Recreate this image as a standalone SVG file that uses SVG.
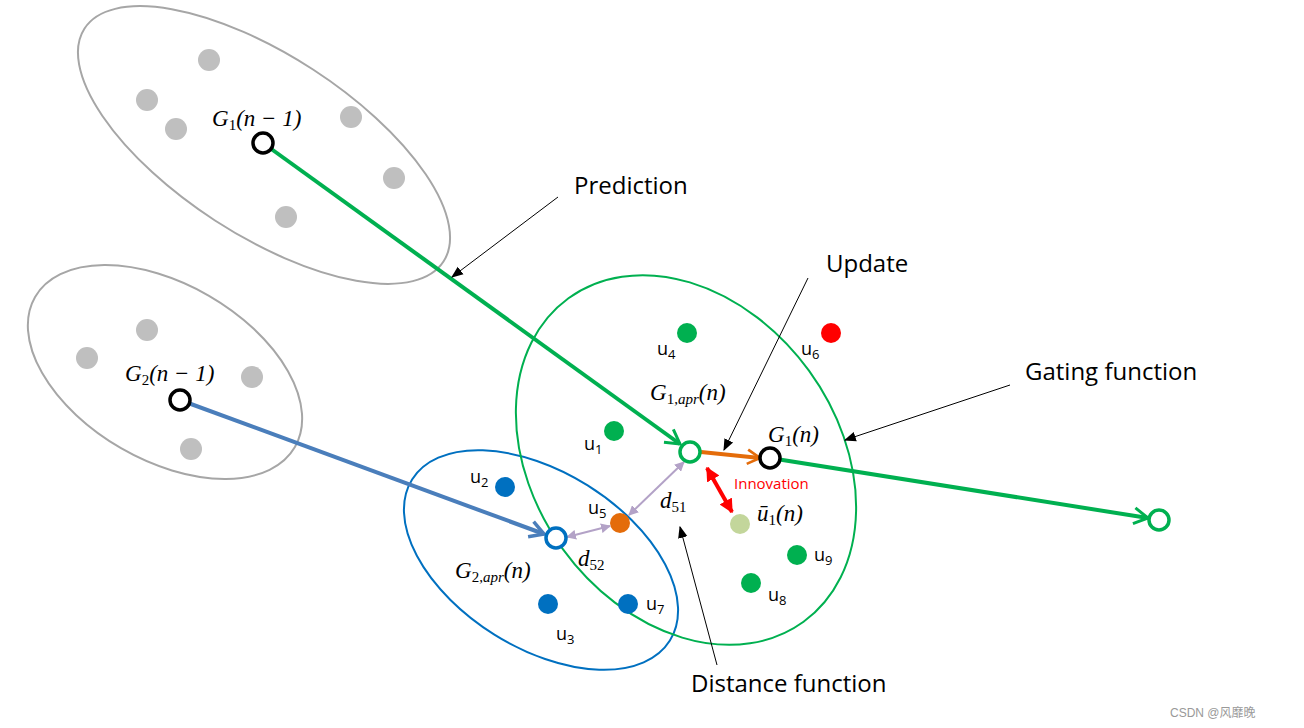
<svg xmlns="http://www.w3.org/2000/svg" width="1304" height="728" viewBox="0 0 1304 728">
<defs>
<style>
.g{fill:#bfbfbf}.lbl{font-family:"Open Sans","Liberation Sans",sans-serif;font-size:24px;fill:#000}
.u{font-family:"Open Sans","Liberation Sans",sans-serif;font-size:18px;fill:#000}
.m{font-family:"Liberation Serif",serif;font-style:italic;font-size:23px;fill:#000}
.s{font-size:15px;font-style:normal}
.si{font-size:15px}
</style>
<marker id="agb" viewBox="0 0 20 20" markerWidth="20" markerHeight="20" refX="18" refY="10" orient="auto" markerUnits="userSpaceOnUse"><path d="M4,2L18,10L4,18" fill="none" stroke="#00b050" stroke-width="3"/></marker>
<marker id="ab" viewBox="0 0 20 20" markerWidth="20" markerHeight="20" refX="18" refY="10" orient="auto" markerUnits="userSpaceOnUse"><path d="M4,2L18,10L4,18" fill="none" stroke="#4a7ebb" stroke-width="3.5"/></marker>
<marker id="ao" viewBox="0 0 20 20" markerWidth="18" markerHeight="18" refX="18" refY="10" orient="auto" markerUnits="userSpaceOnUse"><path d="M4,2L18,10L4,18" fill="none" stroke="#e46c0a" stroke-width="3"/></marker>
<marker id="ar" viewBox="0 0 10 10" markerWidth="14" markerHeight="14" refX="9" refY="5" orient="auto-start-reverse" markerUnits="userSpaceOnUse"><path d="M0,0L10,5L0,10z" fill="#ff0000"/></marker>
<marker id="al" viewBox="0 0 10 10" markerWidth="10" markerHeight="10" refX="9" refY="5" orient="auto-start-reverse" markerUnits="userSpaceOnUse"><path d="M0,0L10,5L0,10z" fill="#b3a2c7"/></marker>
<marker id="ak" viewBox="0 0 10 10" markerWidth="12" markerHeight="12" refX="9" refY="5" orient="auto" markerUnits="userSpaceOnUse"><path d="M0,1L10,5L0,9z" fill="#000"/></marker>
</defs>
<rect width="1304" height="728" fill="#fff"/>
<g id="ellipses" fill="none" stroke-width="2">
<ellipse cx="264" cy="145" rx="214" ry="90" transform="rotate(33 264 145)" stroke="#a6a6a6"/>
<ellipse cx="165" cy="372" rx="150" ry="88" transform="rotate(30 165 372)" stroke="#a6a6a6"/>
<ellipse cx="541" cy="560" rx="152" ry="88" transform="rotate(32 541 560)" stroke="#0070c0"/>
<ellipse cx="686" cy="460" rx="200" ry="152" transform="rotate(54 686 460)" stroke="#00b050"/>
</g>
<g id="dots">
<circle class="g" cx="209" cy="60" r="11"/><circle class="g" cx="147" cy="100" r="11"/><circle class="g" cx="176" cy="129" r="11"/><circle class="g" cx="351" cy="117" r="11"/><circle class="g" cx="394" cy="178" r="11"/><circle class="g" cx="286" cy="217" r="11"/><circle class="g" cx="147" cy="330" r="11"/><circle class="g" cx="87" cy="358" r="11"/><circle class="g" cx="252" cy="377" r="11"/><circle class="g" cx="191" cy="449" r="11"/>
<circle cx="687" cy="333" r="10" fill="#00b050"/><circle cx="831" cy="333" r="10" fill="#ff0000"/><circle cx="614" cy="431" r="10" fill="#00b050"/><circle cx="797" cy="555" r="10" fill="#00b050"/><circle cx="751" cy="583" r="10" fill="#00b050"/>
<circle cx="505" cy="487" r="10" fill="#0070c0"/><circle cx="548" cy="604" r="10" fill="#0070c0"/><circle cx="628" cy="604" r="10" fill="#0070c0"/>
<circle cx="620" cy="523" r="10" fill="#e46c0a"/><circle cx="740" cy="524" r="10" fill="#c3d69b"/>
</g>
<g id="connectors" fill="none">
<line x1="263" y1="143" x2="680" y2="444" stroke="#00b050" stroke-width="4" marker-end="url(#agb)"/>
<line x1="180" y1="400" x2="544" y2="534" stroke="#4a7ebb" stroke-width="4" marker-end="url(#ab)"/>
<line x1="770" y1="458" x2="1148" y2="518" stroke="#00b050" stroke-width="4" marker-end="url(#agb)"/>
<line x1="701" y1="452" x2="760" y2="458" stroke="#e46c0a" stroke-width="4" marker-end="url(#ao)"/>
<line x1="707" y1="468" x2="732" y2="512" stroke="#ff0000" stroke-width="4" marker-start="url(#ar)" marker-end="url(#ar)"/>
<line x1="629" y1="515" x2="684" y2="462" stroke="#b3a2c7" stroke-width="2" marker-start="url(#al)" marker-end="url(#al)"/>
<line x1="610" y1="526" x2="567" y2="537" stroke="#b3a2c7" stroke-width="2" marker-start="url(#al)" marker-end="url(#al)"/>
<line x1="558" y1="197" x2="452" y2="277" stroke="#000" stroke-width="1" marker-end="url(#ak)"/>
<line x1="808" y1="278" x2="724" y2="450" stroke="#000" stroke-width="1" marker-end="url(#ak)"/>
<line x1="1010" y1="385" x2="845" y2="440" stroke="#000" stroke-width="1" marker-end="url(#ak)"/>
<line x1="717" y1="665" x2="680" y2="527" stroke="#000" stroke-width="1" marker-end="url(#ak)"/>
</g>
<g id="nodes" fill="#fff" stroke-width="3.5">
<circle id="G1prev" cx="263" cy="143" r="10" stroke="#000"/>
<circle id="G2prev" cx="180" cy="400" r="10" stroke="#000"/>
<circle id="G1apr" cx="690" cy="452" r="10" stroke="#00b050"/>
<circle id="G1n" cx="770" cy="458" r="10" stroke="#000"/>
<circle id="G2apr" cx="556" cy="538" r="10" stroke="#0070c0"/>
<circle id="end" cx="1159" cy="520" r="10" stroke="#00b050"/>
</g>
<g id="labels">
<text class="lbl" x="574" y="194">Prediction</text>
<text class="lbl" x="826" y="272">Update</text>
<text class="lbl" x="1025" y="380">Gating function</text>
<text class="lbl" x="691" y="692">Distance function</text>
<text x="734" y="489" font-family="Open Sans,Liberation Sans,sans-serif" font-size="15" fill="#ff0000">Innovation</text>
<text class="m" x="212" y="126">G<tspan class="s" dy="4">1</tspan><tspan dy="-4">(n − 1)</tspan></text>
<text class="m" x="125" y="381">G<tspan class="s" dy="4">2</tspan><tspan dy="-4">(n − 1)</tspan></text>
<text class="m" x="650" y="400">G<tspan class="s" dy="4">1,</tspan><tspan class="si">apr</tspan><tspan dy="-4">(n)</tspan></text>
<text class="m" x="768" y="442">G<tspan class="s" dy="4">1</tspan><tspan dy="-4">(n)</tspan></text>
<text class="m" x="757" y="521">ū<tspan class="s" dy="4">1</tspan><tspan dy="-4">(n)</tspan></text>
<text class="m" x="660" y="508">d<tspan class="s" dy="4">51</tspan></text>
<text class="m" x="578" y="566">d<tspan class="s" dy="4">52</tspan></text>
<text class="m" x="455" y="578">G<tspan class="s" dy="4">2,</tspan><tspan class="si">apr</tspan><tspan dy="-4">(n)</tspan></text>
<text class="u" x="657" y="355">u<tspan font-size="13" dy="4">4</tspan></text>
<text class="u" x="801" y="355">u<tspan font-size="13" dy="4">6</tspan></text>
<text class="u" x="584" y="450">u<tspan font-size="13" dy="4">1</tspan></text>
<text class="u" x="588" y="514">u<tspan font-size="13" dy="4">5</tspan></text>
<text class="u" x="470" y="483">u<tspan font-size="13" dy="4">2</tspan></text>
<text class="u" x="814" y="561">u<tspan font-size="13" dy="4">9</tspan></text>
<text class="u" x="768" y="601">u<tspan font-size="13" dy="4">8</tspan></text>
<text class="u" x="646" y="610">u<tspan font-size="13" dy="4">7</tspan></text>
<text class="u" x="556" y="640">u<tspan font-size="13" dy="4">3</tspan></text>
<text x="1170" y="717" font-family="Liberation Sans,Noto Sans CJK SC,sans-serif" font-size="12" fill="#999">CSDN @风靡晚</text>
</g>
</svg>
